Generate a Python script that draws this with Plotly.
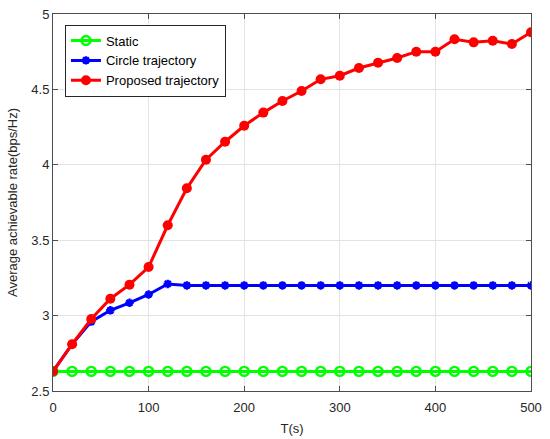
import plotly.graph_objects as go

# ===== DATA =====
T = [0, 20, 40, 60, 80, 100, 120, 140, 160, 180, 200, 220, 240,
     260, 280, 300, 320, 340, 360, 380, 400, 420, 440, 460, 480, 500]

static_rate = [2.63] * len(T)

circle_rate = [2.63, 2.81, 2.96, 3.035, 3.085, 3.14, 3.21, 3.2, 3.2, 3.2, 3.2, 3.2, 3.2,
               3.2, 3.2, 3.2, 3.2, 3.2, 3.2, 3.2, 3.2, 3.2, 3.2, 3.2, 3.2, 3.2]

proposed_rate = [2.63, 2.81, 2.977, 3.112, 3.205, 3.322, 3.599, 3.844, 4.034, 4.153,
                 4.259, 4.346, 4.423, 4.489, 4.567, 4.591, 4.642, 4.677, 4.708,
                 4.75, 4.75, 4.832, 4.812, 4.823, 4.801, 4.879]

FONT = "Liberation Sans, Arial, sans-serif"
TXT = "#262626"

fig = go.Figure()

fig.add_trace(go.Scatter(
    x=T, y=static_rate, name="Static", mode="lines+markers",
    line=dict(color="#00ff00", width=3),
    marker=dict(symbol="circle-open", size=9, color="#00ff00", line=dict(width=2.4))
))
fig.add_trace(go.Scatter(
    x=T, y=circle_rate, name="Circle trajectory", mode="lines+markers",
    line=dict(color="#0000ff", width=3),
    marker=dict(symbol="asterisk-open", size=7, color="#0000ff", line=dict(width=2.4, color="#0000ff"))
))
fig.add_trace(go.Scatter(
    x=T, y=proposed_rate, name="Proposed trajectory", mode="lines+markers",
    line=dict(color="#ff0000", width=3),
    marker=dict(symbol="circle", size=10, color="#ff0000")
))

axis_common = dict(
    showgrid=True, gridcolor="#e3e3e3", gridwidth=1,
    showline=True, linecolor="#4d4d4d", linewidth=1, mirror="ticks",
    ticks="inside", ticklen=5, tickcolor="#4d4d4d",
    zeroline=False, automargin=False,
    tickfont=dict(family=FONT, size=13, color=TXT),
)

fig.update_xaxes(range=[0, 500], dtick=100, ticklabelstandoff=4,
                 title=dict(text="T(s)", font=dict(family=FONT, size=13, color=TXT), standoff=10),
                 **axis_common)
fig.update_yaxes(range=[2.5, 5], dtick=0.5,
                 title=dict(text="Average achievable rate(bps/Hz)",
                            font=dict(family=FONT, size=13, color=TXT), standoff=10),
                 **axis_common)

fig.update_layout(
    width=550, height=439,
    margin=dict(l=53, r=19, t=14, b=48),
    plot_bgcolor="white", paper_bgcolor="white",
    font=dict(family=FONT, size=13, color=TXT),
    legend=dict(x=0.025, y=0.972, xanchor="left", yanchor="top",
                bgcolor="white", bordercolor=TXT, borderwidth=1,
                font=dict(family=FONT, size=13, color="#000000"),
                tracegroupgap=0, itemwidth=30),
    showlegend=True,
)

# remove default page margin so the figure sits at the window corner
fig.write_html("out.html", config={"displayModeBar": False},
               post_script="document.body.style.margin='0';")
